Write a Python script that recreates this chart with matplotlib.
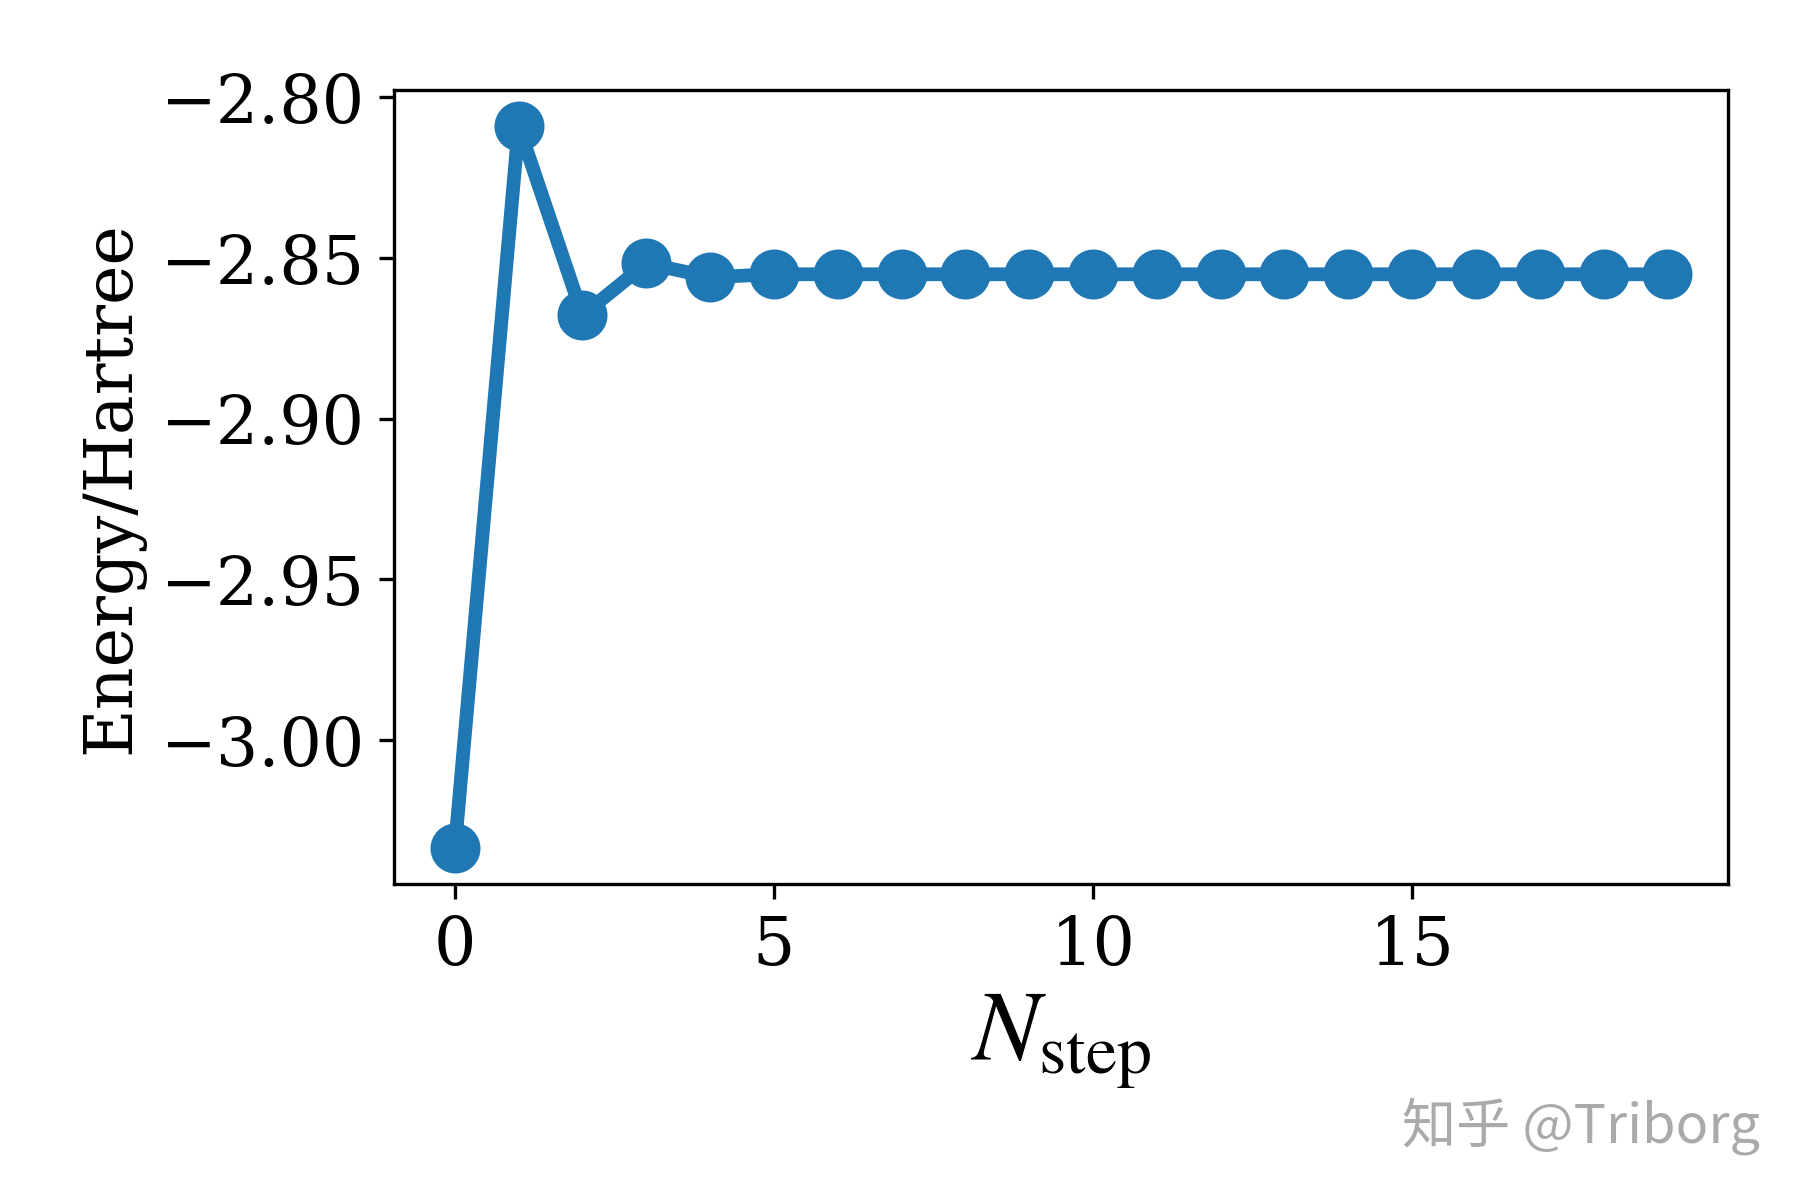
#!/usr/bin/env python3
# -*- coding: utf-8 -*-
"""
SCF energy convergence plot
"""
import matplotlib
matplotlib.use('Agg')
import matplotlib.pyplot as plt

plt.rcParams['font.family'] = 'DejaVu Serif'
plt.rcParams['mathtext.fontset'] = 'stix'

# data
n_step = list(range(20))
energy = [-3.0337, -2.8090, -2.8678, -2.8517, -2.8560,
          -2.8551, -2.8551, -2.8551, -2.8551, -2.8551,
          -2.8551, -2.8551, -2.8551, -2.8551, -2.8551,
          -2.8551, -2.8551, -2.8551, -2.8551, -2.8551]
y_ticks = [-2.80, -2.85, -2.90, -2.95, -3.00]
x_ticks = [0, 5, 10, 15]

fig, ax = plt.subplots(figsize=(6, 4), dpi=300)
fig.subplots_adjust(left=0.219, right=0.96, top=0.925, bottom=0.263)

ax.plot(n_step, energy, '-o', color='#1f77b4', lw=3.3, ms=11)

ax.set_xticks(x_ticks)
ax.set_yticks(y_ticks)
ax.tick_params(labelsize=16)
ax.set_xlabel(r'$N_{\mathrm{step}}$', fontsize=24, labelpad=3)
ax.set_ylabel('Energy/Hartree', fontsize=16)

# watermark
fig.text(0.978, 0.062, '知乎 @Triborg', ha='right', va='center',
         fontsize=13, color='#aaaaaa',
         family=['Noto Sans CJK SC', 'DejaVu Sans'])

plt.savefig('out.png', dpi=300)
